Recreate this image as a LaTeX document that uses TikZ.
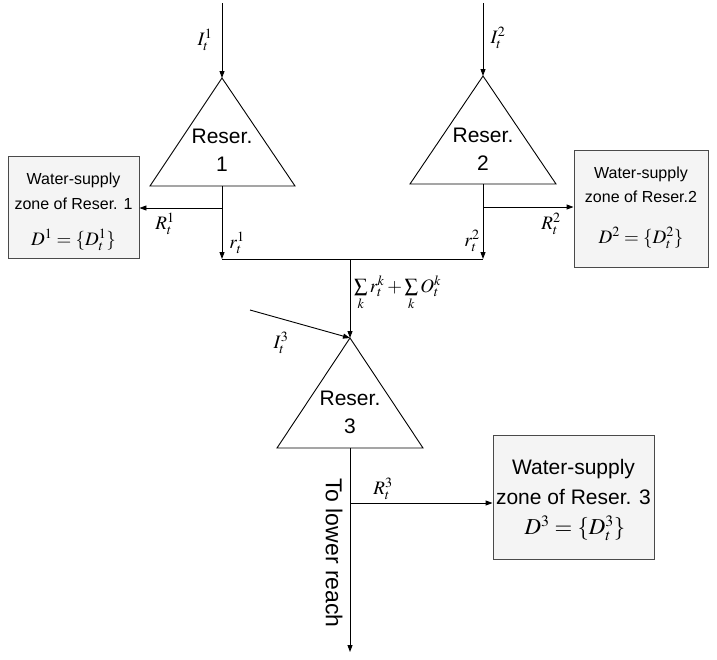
\documentclass[tikz,border=0pt]{standalone}
\usepackage{mathptmx}
\usepackage[no-math]{fontspec}
\setmainfont{Liberation Sans}
\usetikzlibrary{arrows.meta}
\definecolor{boxfill}{HTML}{F4F4F4}
\definecolor{boxline}{HTML}{4A4A4A}
\tikzset{
  flow/.style={line width=0.9pt, -{Triangle[length=7pt,width=5pt]}},
  plain/.style={line width=0.9pt},
  tri/.style={line width=0.9pt},
  zonebox/.style={draw=boxline, fill=boxfill, line width=0.9pt, inner sep=0pt},
  restext/.style={font=\fontsize{21}{28}\selectfont, align=center, inner sep=0pt},
  smalltext/.style={font=\fontsize{16}{19}\selectfont, inner sep=0pt},
  bigtext/.style={font=\fontsize{21}{25}\selectfont, inner sep=0pt},
  mathlab/.style={font=\fontsize{19}{22}\selectfont, inner sep=0pt},
}
\begin{document}
\begin{tikzpicture}[x=1pt,y=-1pt]
\useasboundingbox (0,0) rectangle (717,659);

% Reservoir 1
\coordinate (A1) at (222,78);
\coordinate (L1) at (150,186);
\coordinate (Rr1) at (295,186);
\coordinate (B1) at (222,186);
\draw[tri] (A1) -- (L1) -- (Rr1) -- cycle;
\node[restext] (res1) at (222,150) {Reser.\\1};
\coordinate (I1s) at (222,3);
\draw[flow] (I1s) -- (A1);
\node[mathlab] (lI1) at (205,40) {$I_t^1$};

% Reservoir 2
\coordinate (A2) at (483,76);
\coordinate (L2) at (410,184);
\coordinate (Rr2) at (556,184);
\coordinate (B2) at (483,184);
\draw[tri] (A2) -- (L2) -- (Rr2) -- cycle;
\node[restext] (res2) at (483,149) {Reser.\\2};
\coordinate (I2s) at (483,3);
\draw[flow] (I2s) -- (A2);
\node[mathlab] (lI2) at (498,38) {$I_t^2$};

% Boxes
\node[zonebox, minimum width=131pt, minimum height=102pt] (box1) at (73.5,207) {};
\node[smalltext] (box1a) at (73.5,180) {Water-supply};
\node[smalltext] (box1b) at (73.5,204) {zone of Reser. 1};
\node[mathlab] (box1c) at (73.5,240) {$D^1=\{D_t^1\}$};

\node[zonebox, minimum width=134pt, minimum height=117pt] (box2) at (641,208.5) {};
\node[smalltext] (box2a) at (641,174) {Water-supply};
\node[smalltext] (box2b) at (641,197) {zone of Reser.2};
\node[mathlab] (box2c) at (641,238) {$D^2=\{D_t^2\}$};

\node[zonebox, minimum width=161pt, minimum height=124pt] (box3) at (573.5,497) {};
\node[bigtext] (box3a) at (573.5,469) {Water-supply};
\node[bigtext] (box3b) at (573.5,497) {zone of Reser. 3};
\node[mathlab, font=\fontsize{20.74}{25}\selectfont] (box3c) at (575,528) {\scalebox{1.1}{$D^3=\{D_t^3\}$}};

% Releases from reservoir 1 and 2
\coordinate (J1) at (222,259);
\coordinate (J2) at (483,259);
\coordinate (K1) at (222,208);
\coordinate (K2) at (483,207);
\draw[flow] (B1) -- (J1);
\draw[flow] (K1) -- (K1 -| box1.east);
\draw[flow] (B2) -- (J2);
\draw[flow] (K2) -- (K2 -| box2.west);
\draw[plain] (J1) -- (J2);
\node[mathlab] (lR1) at (165,224) {$R_t^1$};
\node[mathlab] (lr1) at (237,243) {$r_t^1$};
\node[mathlab] (lR2) at (551,224) {$R_t^2$};
\node[mathlab] (lr2) at (472,241) {$r_t^2$};

% Reservoir 3
\coordinate (A3) at (350,338);
\coordinate (L3) at (277,448);
\coordinate (Rr3) at (423,448);
\coordinate (B3) at (350,448);
\draw[tri] (A3) -- (L3) -- (Rr3) -- cycle;
\node[restext] (res3) at (350,412) {Reser.\\3};
\coordinate (M) at (350,259);
\draw[flow] (M) -- (A3);
\node[mathlab, anchor=west] (lsum) at (354,293) {$\sum\limits_k r_t^k+\sum\limits_k O_t^k$};
\coordinate (I3s) at (250,310);
\draw[flow] (I3s) -- (A3);
\node[mathlab] (lI3) at (281,343) {$I_t^3$};

\coordinate (E3) at (350,652);
\coordinate (K3) at (350,503);
\draw[flow] (B3) -- (E3);
\draw[flow] (K3) -- (K3 -| box3.west);
\node[mathlab] (lR3) at (383,489) {$R_t^3$};
\node[bigtext, font=\fontsize{23}{27}\selectfont, rotate=-90] (lower) at (334,553) {To lower reach};
\end{tikzpicture}
\end{document}
